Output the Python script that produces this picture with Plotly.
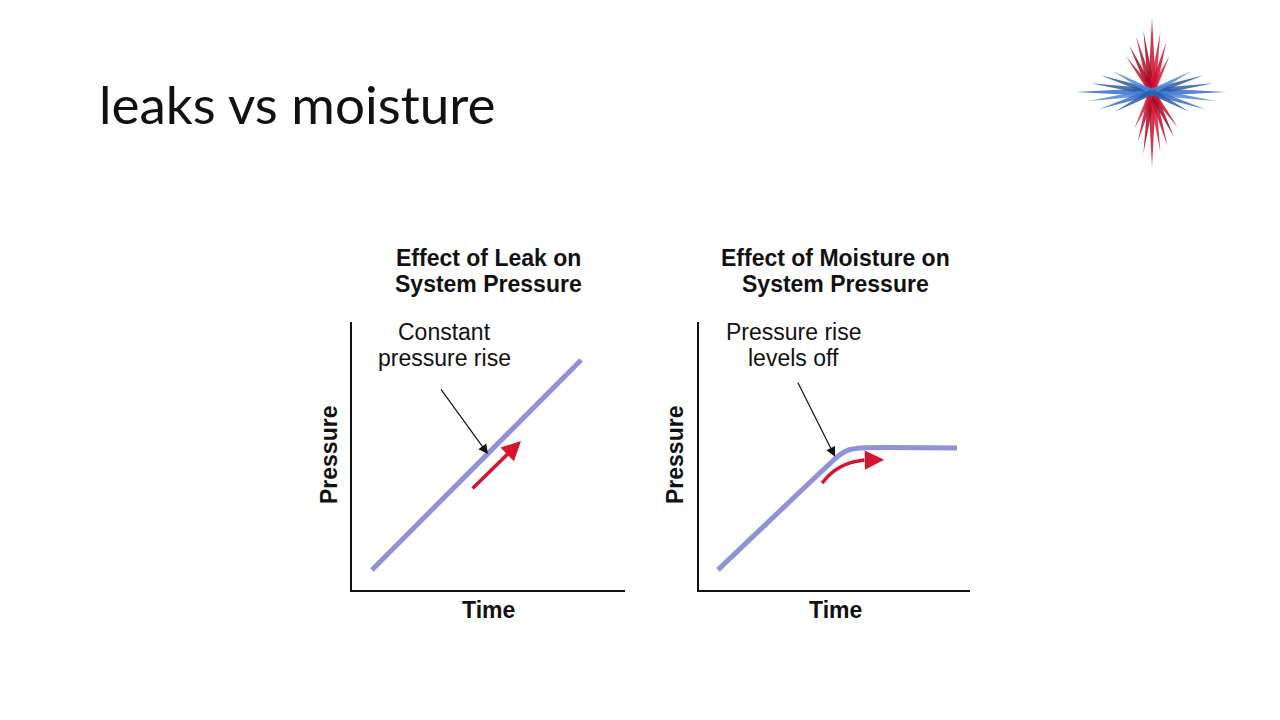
import math
import plotly.graph_objects as go

# ---------------- data ----------------
slide_title = "leaks vs moisture"
panel_titles = [["Effect of Leak on", "System Pressure"], ["Effect of Moisture on", "System Pressure"]]
callouts = [["Constant", "pressure rise"], ["Pressure rise", "levels off"]]
x_label = "Time"
y_label = "Pressure"

# Leak: constant pressure rise (time, pressure)
leak_time = [0.73, 8.39]
leak_pressure = [0.75, 8.58]

# Moisture: rise then levels off
moist_time = [0.70, 5.02, 5.25, 5.50, 5.94, 9.52]
moist_pressure = [0.75, 4.89, 5.08, 5.22, 5.30, 5.30]

# red direction arrows
leak_arrow_time = [4.36, 6.19]
leak_arrow_pressure = [3.73, 5.56]
moist_arrow_time = [4.54, 4.85, 5.20, 5.60, 6.10, 6.83]
moist_arrow_pressure = [3.99, 4.33, 4.58, 4.75, 4.85, 4.86]

# black callout pointers: (text end, target)
leak_pointer = [(3.22, 7.54), (4.98, 5.07)]
moist_pointer = [(3.62, 7.80), (5.02, 4.97)]

# logo spikes: angle (deg), length (px), half width (px), colour
logo_spikes = [
    (90, 74, 4, "#c8102e"), (98, 62, 3.5, "#a50d26"), (82, 60, 3.5, "#d81b3a"),
    (106, 58, 3.5, "#b80f2b"), (74, 52, 3.5, "#c8102e"), (116, 52, 3.5, "#9e0c24"),
    (64, 40, 3, "#d81b3a"), (126, 44, 3, "#c8102e"),
    (270, 75, 4, "#c8102e"), (262, 62, 3.5, "#a50d26"), (278, 60, 3.5, "#d81b3a"),
    (286, 56, 3.5, "#b80f2b"), (254, 52, 3.5, "#c8102e"), (296, 50, 3.5, "#9e0c24"),
    (244, 40, 3, "#d81b3a"), (306, 44, 3, "#c8102e"),
    (180, 77, 4, "#3a6fc4"), (172, 62, 3.5, "#2e5aa8"), (188, 64, 3.5, "#4a86d8"),
    (162, 54, 3.5, "#2e5aa8"), (198, 56, 3.5, "#3a6fc4"), (152, 44, 3, "#4a86d8"),
    (208, 42, 3, "#2e5aa8"),
    (0, 74, 4, "#3a6fc4"), (8, 62, 3.5, "#2e5aa8"), (352, 64, 3.5, "#4a86d8"),
    (18, 54, 3.5, "#2e5aa8"), (342, 56, 3.5, "#3a6fc4"), (28, 44, 3, "#4a86d8"),
    (332, 42, 3, "#2e5aa8"),
]
logo_center = (1152, 92)

W, H = 1280, 720
BLUE = "#9191d9"
RED = "#d7132e"
FONT = "Liberation Sans, Arial, sans-serif"
FS = 23

fig = go.Figure()

fig.add_trace(go.Scatter(x=leak_time, y=leak_pressure, mode="lines",
                         line=dict(color=BLUE, width=5), xaxis="x", yaxis="y",
                         showlegend=False, hoverinfo="skip"))
fig.add_trace(go.Scatter(x=moist_time, y=moist_pressure, mode="lines",
                         line=dict(color=BLUE, width=5, shape="spline", smoothing=0.6),
                         xaxis="x2", yaxis="y2", showlegend=False, hoverinfo="skip"))
# curved red arrow body
fig.add_trace(go.Scatter(x=moist_arrow_time[:-1], y=moist_arrow_pressure[:-1], mode="lines",
                         line=dict(color=RED, width=3.5, shape="spline"),
                         xaxis="x2", yaxis="y2", showlegend=False, hoverinfo="skip"))

ann = []
# red straight arrow (leak)
ann.append(dict(x=leak_arrow_time[1], y=leak_arrow_pressure[1], ax=leak_arrow_time[0],
                ay=leak_arrow_pressure[0], xref="x", yref="y", axref="x", ayref="y",
                showarrow=True, arrowhead=2, arrowsize=1.1, arrowwidth=3.5, arrowcolor=RED, text=""))
# red curved arrow head (moisture)
ann.append(dict(x=moist_arrow_time[-1], y=moist_arrow_pressure[-1], ax=moist_arrow_time[-2],
                ay=moist_arrow_pressure[-2], xref="x2", yref="y2", axref="x2", ayref="y2",
                showarrow=True, arrowhead=2, arrowsize=1.1, arrowwidth=3.5, arrowcolor=RED, text=""))
# black pointers
for (xa, ya), (xb, yb), xr, yr in [(leak_pointer[0], leak_pointer[1], "x", "y"),
                                   (moist_pointer[0], moist_pointer[1], "x2", "y2")]:
    ann.append(dict(x=xb, y=yb, ax=xa, ay=ya, xref=xr, yref=yr, axref=xr, ayref=yr,
                    showarrow=True, arrowhead=2, arrowsize=1.6, arrowwidth=1.2,
                    arrowcolor="#111", text=""))

def px(x, y):
    return x / W, 1 - y / H

def text_ann(t, x, y, bold=False, angle=0, size=FS):
    return dict(text=("<b>%s</b>" % t) if bold else t, x=x / W, y=1 - y / H,
                xref="paper", yref="paper", xanchor="center", yanchor="middle",
                showarrow=False, textangle=angle,
                font=dict(family=FONT, size=size, color="#111"))

# slide title
ann.append(dict(text=slide_title, x=97 / W, y=1 - 104 / H, xref="paper", yref="paper",
                xanchor="left", yanchor="middle", showarrow=False,
                font=dict(family="Lato, Open Sans, sans-serif", size=53, color="#111")))
# panel titles and callouts, one line per annotation
for cx, lines in [(488, panel_titles[0]), (835, panel_titles[1])]:
    for i, t in enumerate(lines):
        ann.append(text_ann(t, cx, 258 + 26 * i, bold=True))
for cx, lines in [(444, callouts[0]), (793, callouts[1])]:
    for i, t in enumerate(lines):
        ann.append(text_ann(t, cx, 332 + 26 * i))
# axis labels
for cx in [488, 835]:
    ann.append(text_ann(x_label, cx, 610, bold=True))
for cx in [329, 675]:
    ann.append(text_ann(y_label, cx, 455, bold=True, angle=-90))

# logo shapes
shapes = []
cx0, cy0 = logo_center
for ang, ln, hw, col in logo_spikes:
    a = math.radians(ang)
    dx, dy = math.cos(a), -math.sin(a)
    nx, ny = -dy, dx
    tip = (cx0 + dx * ln, cy0 + dy * ln)
    b1 = (cx0 + nx * hw, cy0 + ny * hw)
    b2 = (cx0 - nx * hw, cy0 - ny * hw)
    pts = [px(*tip), px(*b1), px(*b2)]
    path = "M %f %f L %f %f L %f %f Z" % (pts[0][0], pts[0][1], pts[1][0], pts[1][1], pts[2][0], pts[2][1])
    shapes.append(dict(type="path", path=path, xref="paper", yref="paper",
                       fillcolor=col, line=dict(width=0), opacity=0.85))

axis_common = dict(range=[0, 10], showgrid=False, zeroline=False, showticklabels=False,
                   ticks="", showline=True, linecolor="#111", linewidth=2, fixedrange=True)

fig.update_layout(
    width=W, height=H, margin=dict(l=0, r=0, t=0, b=0),
    paper_bgcolor="white", plot_bgcolor="white",
    xaxis=dict(domain=[352 / W, 625 / W], anchor="y", **axis_common),
    yaxis=dict(domain=[(H - 590) / H, (H - 322) / H], anchor="x", **axis_common),
    xaxis2=dict(domain=[699 / W, 970 / W], anchor="y2", **axis_common),
    yaxis2=dict(domain=[(H - 590) / H, (H - 322) / H], anchor="x2", **axis_common),
    annotations=ann, shapes=shapes, showlegend=False,
)

fig.write_html("out.html", config={"displayModeBar": False})
